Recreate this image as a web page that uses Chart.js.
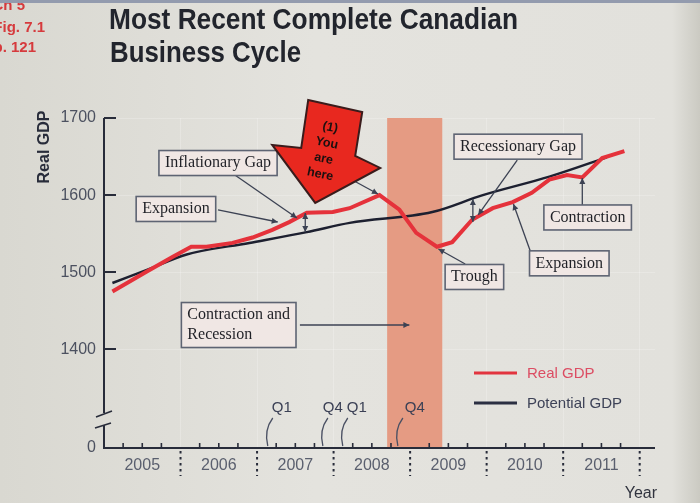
<!DOCTYPE html>
<html lang="en">
<head>
<meta charset="UTF-8">
<title>Most Recent Complete Canadian Business Cycle</title>
<script src="https://cdn.jsdelivr.net/npm/chart.js"></script>
<style>
  html, body { margin: 0; padding: 0; background: #e1e0d9; }
  canvas { display: block; }
</style>
</head>
<body>
<canvas id="cycle" width="700" height="503"></canvas>
<script>
// Real GDP (red): decimal year / level
const realYears = [2005.11, 2005.56, 2005.90, 2006.14, 2006.34, 2006.68, 2006.94, 2007.20, 2007.42,
                   2007.65, 2007.99, 2008.21, 2008.60, 2008.86, 2009.08, 2009.35, 2009.55, 2009.81,
                   2010.08, 2010.34, 2010.59, 2010.82, 2011.05, 2011.25, 2011.51, 2011.80];
const realGdp   = [1475, 1501, 1520, 1533, 1533, 1538, 1545, 1555, 1565,
                   1577, 1578, 1583, 1600, 1581, 1551, 1533, 1539, 1568,
                   1583, 1591, 1603, 1620, 1626, 1623, 1648, 1657];

// Potential GDP (black)
const potYears = [2005.11, 2005.56, 2006.08, 2006.90, 2007.65, 2008.21, 2009.29, 2009.95, 2010.82, 2011.57];
const potGdp   = [1486, 1503, 1523, 1538, 1552, 1564, 1578, 1600, 1624, 1649];

const yearLabels = ['2005', '2006', '2007', '2008', '2009', '2010', '2011'];
const gdpTicks = [1400, 1500, 1600, 1700];
const gdpFloor = 1272;            // bottom of the broken axis, shown as 0
const recession = [2008.70, 2009.42];

// quarter call-outs under the curve
const quarterNotes = [
  { text: 'Q1', year: 2007.14, dx: 4 },
  { text: 'Q4', year: 2007.86, dx: 0 },
  { text: 'Q1', year: 2008.12, dx: 4 },
  { text: 'Q4', year: 2008.84, dx: 7 }
];

// text boxes: centre in data units
const boxes = [
  { lines: ['Inflationary Gap'], at: [2006.49, 1641.6] },
  { lines: ['Expansion'], at: [2005.94, 1582.0] },
  { lines: ['Contraction and', 'Recession'], at: [2006.76, 1431.5], left: true },
  { lines: ['Recessionary Gap'], at: [2010.41, 1662.8] },
  { lines: ['Contraction'], at: [2011.32, 1571.0] },
  { lines: ['Expansion'], at: [2011.08, 1511.5] },
  { lines: ['Trough'], at: [2009.84, 1493.8] }
];

// leader arrows: from -> to (data units), both = double headed
const leaders = [
  { from: [2006.49, 1580.7], to: [2007.27, 1565.1] },
  { from: [2006.71, 1626.1], to: [2007.52, 1570.3] },
  { from: [2007.63, 1576.8], to: [2007.63, 1552.1], both: true },
  { from: [2008.15, 1624.8], to: [2008.58, 1601.4] },
  { from: [2007.56, 1431.5], to: [2008.99, 1431.5] },
  { from: [2010.40, 1645.5], to: [2009.89, 1574.2] },
  { from: [2009.82, 1595.0], to: [2009.82, 1565.1], both: true },
  { from: [2011.25, 1587.2], to: [2011.25, 1622.2] },
  { from: [2010.57, 1527.5], to: [2010.35, 1588.5] },
  { from: [2009.72, 1510.6], to: [2009.37, 1530.1] }
];

const youAreHere = { tip: [2007.76, 1589.8], lines: ['(1)', 'You', 'are', 'here'] };

const SANS = '"Liberation Sans", Arial, sans-serif';
const SERIF = '"Liberation Serif", "Times New Roman", serif';
const INK = '#282c3a';

function arrowHead(ctx, x1, y1, x2, y2) {
  const a = Math.atan2(y2 - y1, x2 - x1), L = 6, W = 3;
  ctx.beginPath();
  ctx.moveTo(x2, y2);
  ctx.lineTo(x2 - L * Math.cos(a) + W * Math.sin(a), y2 - L * Math.sin(a) - W * Math.cos(a));
  ctx.lineTo(x2 - L * Math.cos(a) - W * Math.sin(a), y2 - L * Math.sin(a) + W * Math.cos(a));
  ctx.closePath();
  ctx.fill();
}

const slide = {
  id: 'slide',
  beforeDraw(chart) {
    const ctx = chart.ctx, w = chart.width, h = chart.height;
    ctx.save();
    const g = ctx.createLinearGradient(0, 0, w, 0);
    g.addColorStop(0, '#d9d8d1');
    g.addColorStop(0.45, '#e4e3de');
    g.addColorStop(0.96, '#e2e1dc');
    g.addColorStop(1, '#cbcac2');
    ctx.fillStyle = g;
    ctx.fillRect(0, 0, w, h);

    // page refs, cut off at the left edge
    ctx.fillStyle = '#d63a3d';
    ctx.font = 'bold 15px ' + SANS;
    ctx.textAlign = 'right';
    ctx.textBaseline = 'alphabetic';
    ctx.fillText('Ch 5', 25, 10);
    ctx.fillText('Fig. 7.1', 45, 32);
    ctx.fillText('p. 121', 36, 52);

    ctx.fillStyle = '#939bae';
    ctx.fillRect(0, 0, w, 3);

    // title
    ctx.fillStyle = '#22252d';
    ctx.textAlign = 'left';
    ctx.font = 'bold 29px ' + SANS;
    ctx.fillText('Most Recent Complete Canadian', 109, 29, 409);
    ctx.fillText('Business Cycle', 110, 62, 191);

    // y title
    ctx.save();
    ctx.translate(49, 147);
    ctx.rotate(-Math.PI / 2);
    ctx.textAlign = 'center';
    ctx.font = 'bold 16px ' + SANS;
    ctx.fillStyle = INK;
    ctx.fillText('Real GDP', 0, 0);
    ctx.restore();
    ctx.restore();
  },
  beforeDatasetsDraw(chart) {
    const { ctx, chartArea: a, scales: { x } } = chart;
    const x0 = x.getPixelForValue(recession[0]), x1 = x.getPixelForValue(recession[1]);
    ctx.save();
    ctx.fillStyle = '#e59b83';
    ctx.fillRect(x0, a.top, x1 - x0, a.bottom - a.top);
    ctx.restore();
  },
  afterDraw(chart) {
    const { ctx, chartArea: a, scales: { x, y } } = chart;
    const P = (p) => [x.getPixelForValue(p[0]), y.getPixelForValue(p[1])];
    const bottom = a.bottom, left = a.left;
    ctx.save();
    ctx.strokeStyle = INK;
    ctx.fillStyle = INK;
    ctx.lineCap = 'butt';

    // y axis with break
    ctx.lineWidth = 2;
    ctx.beginPath();
    ctx.moveTo(left, a.top); ctx.lineTo(left, bottom - 35);
    ctx.moveTo(left, bottom - 23); ctx.lineTo(left, bottom);
    ctx.lineTo(a.right, bottom);
    ctx.stroke();
    ctx.lineWidth = 1.6;
    ctx.beginPath();
    ctx.moveTo(left - 8, bottom - 31); ctx.lineTo(left + 8, bottom - 37);
    ctx.moveTo(left - 9, bottom - 20); ctx.lineTo(left + 7, bottom - 25);
    ctx.stroke();

    // inward y ticks
    ctx.lineWidth = 2;
    gdpTicks.forEach(v => {
      const yy = Math.round(y.getPixelForValue(v));
      ctx.beginPath(); ctx.moveTo(left, yy); ctx.lineTo(left + 12, yy); ctx.stroke();
    });

    // quarter ticks up, dotted year separators down
    x.ticks.forEach(t => {
      const xx = x.getPixelForValue(t.value);
      if (t.value % 1 !== 0) {
        ctx.lineWidth = 1.6;
        ctx.beginPath(); ctx.moveTo(xx, bottom - 5); ctx.lineTo(xx, bottom); ctx.stroke();
      } else if (t.value > x.min) {
        ctx.lineWidth = 2;
        ctx.setLineDash([2.5, 3.5]);
        ctx.beginPath(); ctx.moveTo(xx, bottom + 3); ctx.lineTo(xx, bottom + 28); ctx.stroke();
        ctx.setLineDash([]);
      }
    });

    ctx.font = '16px ' + SANS;
    ctx.textAlign = 'right';
    ctx.textBaseline = 'alphabetic';
    ctx.fillStyle = '#30333e';
    ctx.fillText('Year', 657, 498);

    // quarter notes
    ctx.font = '15px ' + SANS;
    ctx.textAlign = 'left';
    ctx.textBaseline = 'middle';
    ctx.fillStyle = '#3b4055';
    ctx.strokeStyle = '#4a5063';
    ctx.lineWidth = 1.3;
    quarterNotes.forEach(q => {
      const ax = x.getPixelForValue(q.year);
      ctx.fillText(q.text, ax + q.dx, bottom - 40);
      ctx.beginPath();
      ctx.moveTo(ax + 5, bottom - 30);
      ctx.quadraticCurveTo(ax - 4, bottom - 18, ax, bottom - 2);
      ctx.stroke();
    });

    // legend
    const items = chart.data.datasets;
    [[373, '#e2343f', '#dc4d63'], [403, '#2b2f42', '#3d4257']].forEach((s, i) => {
      ctx.strokeStyle = s[1];
      ctx.lineWidth = 3;
      ctx.beginPath(); ctx.moveTo(474, s[0]); ctx.lineTo(517, s[0]); ctx.stroke();
      ctx.fillStyle = s[2];
      ctx.fillText(items[i].label, 527, s[0] + 1);
    });

    // leaders
    ctx.strokeStyle = '#3c4253';
    ctx.fillStyle = '#3c4253';
    ctx.lineWidth = 1.3;
    leaders.forEach(l => {
      const [x1, y1] = P(l.from), [x2, y2] = P(l.to);
      ctx.beginPath(); ctx.moveTo(x1, y1); ctx.lineTo(x2, y2); ctx.stroke();
      arrowHead(ctx, x1, y1, x2, y2);
      if (l.both) arrowHead(ctx, x2, y2, x1, y1);
    });

    // boxes
    ctx.font = '16px ' + SERIF;
    ctx.textBaseline = 'middle';
    boxes.forEach(b => {
      const [cx, cy] = P(b.at);
      const tw = Math.max(...b.lines.map(s => ctx.measureText(s).width));
      const lh = 20, w = tw + 12, h = b.lines.length * lh + 5;
      const bx = cx - w / 2, by = cy - h / 2;
      ctx.fillStyle = '#f0e7e4';
      ctx.fillRect(bx, by, w, h);
      ctx.strokeStyle = '#5e6473';
      ctx.lineWidth = 1.6;
      ctx.strokeRect(bx, by, w, h);
      ctx.fillStyle = '#1f2026';
      ctx.textAlign = b.left ? 'left' : 'center';
      b.lines.forEach((s, i) => {
        ctx.fillText(s, b.left ? bx + 6 : cx, by + 2.5 + lh / 2 + i * lh);
      });
    });

    // "You are here" block arrow
    const [tx, ty] = P(youAreHere.tip);
    const shape = [[-7, -103], [47, -91], [40, -47], [65, -35], [0, 0], [-43, -58], [-14, -55]];
    ctx.beginPath();
    shape.forEach((p, i) => i ? ctx.lineTo(tx + p[0], ty + p[1]) : ctx.moveTo(tx + p[0], ty + p[1]));
    ctx.closePath();
    ctx.fillStyle = '#e8281f';
    ctx.fill();
    ctx.strokeStyle = '#3a1c1c';
    ctx.lineWidth = 2;
    ctx.lineJoin = 'miter';
    ctx.stroke();
    ctx.save();
    ctx.translate(tx + 10, ty - 52);
    ctx.rotate(12 * Math.PI / 180);
    ctx.font = 'bold 12.5px ' + SANS;
    ctx.textAlign = 'center';
    ctx.fillStyle = '#1c1010';
    youAreHere.lines.forEach((s, i) => ctx.fillText(s, 0, (i - 1.5) * 16));
    ctx.restore();

    ctx.restore();
  }
};

const gridTint = 'rgba(255,255,255,0.22)';

new Chart(document.getElementById('cycle'), {
  type: 'line',
  data: {
    datasets: [
      {
        label: 'Real GDP',
        data: realYears.map((t, i) => ({ x: t, y: realGdp[i] })),
        borderColor: '#e5323b',
        borderWidth: 4,
        pointRadius: 0,
        tension: 0
      },
      {
        label: 'Potential GDP',
        data: potYears.map((t, i) => ({ x: t, y: potGdp[i] })),
        borderColor: '#1d2030',
        borderWidth: 2.5,
        pointRadius: 0,
        cubicInterpolationMode: 'monotone'
      }
    ]
  },
  options: {
    responsive: false,
    animation: false,
    layout: { padding: { top: 118, right: 45, bottom: 0, left: 0 } },
    plugins: {
      legend: { display: false },
      tooltip: { enabled: false }
    },
    scales: {
      x: {
        type: 'linear',
        min: 2005,
        max: 2012.2,
        afterBuildTicks: s => {
          const t = [];
          for (let q = 0; q <= 28; q++) t.push({ value: 2005 + q / 4 });
          s.ticks = t;
        },
        afterFit: s => { s.height = 55; },
        border: { display: false },
        grid: {
          drawTicks: false,
          color: c => (c.tick && c.tick.value % 1 === 0 && c.tick.value > 2005) ? gridTint : 'transparent'
        },
        ticks: {
          autoSkip: false,
          maxRotation: 0,
          padding: 8,
          color: '#5a5f6e',
          font: { family: SANS, size: 16 },
          callback: v => (v % 1 === 0.5) ? yearLabels[Math.floor(v) - 2005] : ''
        }
      },
      y: {
        type: 'linear',
        min: gdpFloor,
        max: 1700,
        afterBuildTicks: s => { s.ticks = [gdpFloor, ...gdpTicks].map(v => ({ value: v })); },
        afterFit: s => { s.width = 104; },
        border: { display: false },
        grid: {
          drawTicks: false,
          color: c => (c.tick && c.tick.value !== gdpFloor) ? gridTint : 'transparent'
        },
        ticks: {
          padding: 8,
          color: '#4c5160',
          font: { family: SANS, size: 16 },
          callback: v => v === gdpFloor ? '0' : String(v)
        }
      }
    }
  },
  plugins: [slide]
});
</script>
</body>
</html>
